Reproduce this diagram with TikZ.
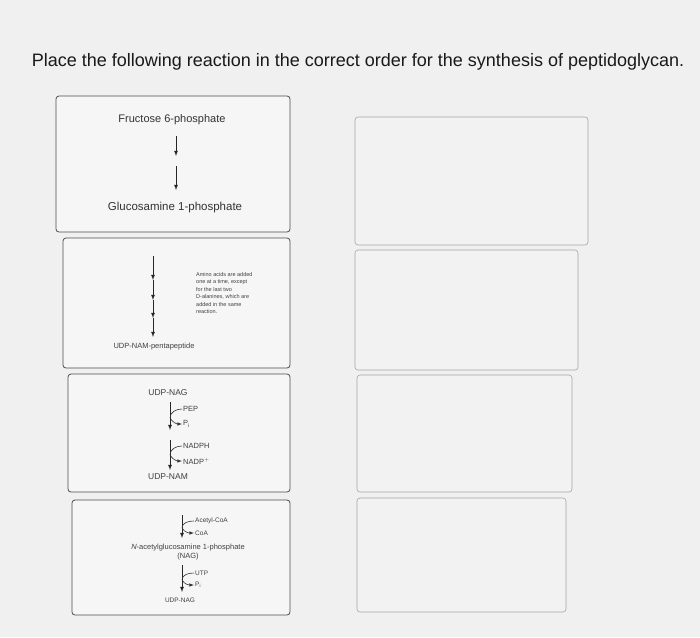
\documentclass[tikz,border=0pt]{standalone}
\usepackage{fontspec}
\setmainfont{Liberation Sans}
\begin{document}
\begin{tikzpicture}[x=1pt,y=-1pt,
  card/.style={draw=black!70,line width=0.8pt,rounded corners=3pt,fill=white!93!gray},
  slot/.style={draw=black!35,line width=0.6pt,rounded corners=3pt,fill=white!90!gray},
  lbl/.style={font=\fontsize{11}{12}\selectfont,text=black!80,inner sep=1pt},
  tiny/.style={font=\fontsize{5}{6}\selectfont,text=black!75,inner sep=1pt},
  sm/.style={font=\fontsize{7.5}{8}\selectfont,text=black!75,inner sep=1pt},
  rx/.style={-latex,line width=0.8pt,black!85},
  br/.style={line width=0.6pt,black!80}]
\fill[white!88!gray] (0,0) rectangle (700,637);
\useasboundingbox (0,0) rectangle (700,637);
\node[font=\fontsize{18}{20}\selectfont,text=black!90] (title) at (358,62) {Place the following reaction in the correct order for the synthesis of peptidoglycan.};
% right slots
\draw[slot] (355,117) rectangle (588,245);
\draw[slot] (355,250) rectangle (578,370);
\draw[slot] (357,375) rectangle (572,492);
\draw[slot] (357,498) rectangle (566,612);
% cards
\draw[card] (56,96) rectangle (290,232);
\draw[card] (63,238) rectangle (290,368);
\draw[card] (68,374) rectangle (290,492);
\draw[card] (72,500) rectangle (290,615);
% card 1
\node[lbl] (f6p) at (172,120) {Fructose 6-phosphate};
\coordinate (a1) at (176,136); \coordinate (a2) at (176,156);
\coordinate (a3) at (176,166); \coordinate (a4) at (176,190);
\draw[rx] (a1) -- (a2); \draw[rx] (a3) -- (a4);
\node[lbl,font=\fontsize{11.5}{12}\selectfont] (g1p) at (175,208) {Glucosamine 1-phosphate};
% card 2
\coordinate (b0) at (153,256); \coordinate (b1) at (153,280);
\coordinate (b2) at (153,300); \coordinate (b3) at (153,318);
\coordinate (b4) at (153,337);
\draw[rx] (b0) -- (b1); \draw[rx] (b1) -- (b2); \draw[rx] (b2) -- (b3); \draw[rx] (b3) -- (b4);
\node[tiny,font=\fontsize{5.5}{7.5}\selectfont,align=left,anchor=north west] (note) at (195,271) {Amino acids are added\\one at a time, except\\for the last two\\D-alanines, which are\\added in the same\\reaction.};
\node[sm] (nampp) at (154,347) {UDP-NAM-pentapeptide};
% card 3
\node[sm,font=\fontsize{8.5}{9}\selectfont] (nag3) at (168,393) {UDP-NAG};
\coordinate (c0) at (170,402); \coordinate (c1) at (170,430);
\coordinate (c2) at (170,440); \coordinate (c3) at (170,470);
\draw[rx] (c0) -- (c1); \draw[rx] (c2) -- (c3);
\node[sm,anchor=west] (pep) at (182,409) {PEP};
\node[sm,anchor=west] (pi1) at (182,424) {P$_\mathrm{i}$};
\node[sm,anchor=west] (nadph) at (182,446) {NADPH};
\node[sm,anchor=west] (nadp) at (182,461) {NADP$^+$};
\draw[br] (pep.west) to[out=180,in=90] (170,418);
\draw[br,-latex] (170,418) to[out=-60,in=180] (pi1.west);
\draw[br] (nadph.west) to[out=180,in=90] (170,455);
\draw[br,-latex] (170,455) to[out=-60,in=180] (nadp.west);
\node[sm,font=\fontsize{8.5}{9}\selectfont] (nam3) at (168,477) {UDP-NAM};
% card 4
\coordinate (d0) at (182,515); \coordinate (d1) at (182,538);
\coordinate (d2) at (182,565); \coordinate (d3) at (182,592);
\draw[rx] (d0) -- (d1); \draw[rx] (d2) -- (d3);
\node[sm,font=\fontsize{6.5}{7}\selectfont,anchor=west] (acoa) at (194,521) {Acetyl-CoA};
\node[sm,font=\fontsize{6.5}{7}\selectfont,anchor=west] (coa) at (194,533) {CoA};
\draw[br] (acoa.west) to[out=180,in=90] (182,528);
\draw[br,-latex] (182,528) to[out=-60,in=180] (coa.west);
\node[sm,font=\fontsize{7.5}{8.5}\selectfont,align=center] (nag) at (188,552) {\textit{N}-acetylglucosamine 1-phosphate\\(NAG)};
\node[sm,font=\fontsize{6.5}{7}\selectfont,anchor=west] (utp) at (194,573) {UTP};
\node[sm,font=\fontsize{6.5}{7}\selectfont,anchor=west] (pi2) at (194,585) {P$_\mathrm{i}$};
\draw[br] (utp.west) to[out=180,in=90] (182,580);
\draw[br,-latex] (182,580) to[out=-60,in=180] (pi2.west);
\node[sm,font=\fontsize{6.5}{7}\selectfont] (nag4) at (180,600) {UDP-NAG};
\end{tikzpicture}
\end{document}
